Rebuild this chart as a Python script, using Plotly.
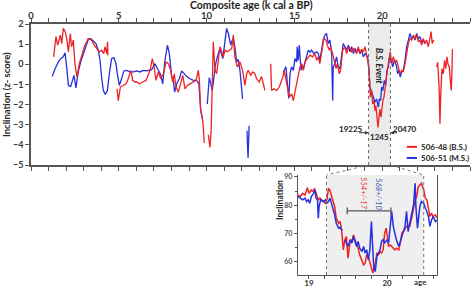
import plotly.graph_objects as go

# ---------------- data ----------------
red_age = [1.29,1.42,1.52,1.67,1.75,1.84,1.95,2.05,2.13,2.24,2.31,2.41,2.5,2.62,2.75,2.94,3.07,3.26,3.45,3.6,3.76,3.89,4.02,4.14,4.21,4.31,4.36,4.38,None,
           4.9,4.97,5.09,5.22,5.41,5.5,5.6,5.69,5.79,5.92,6.03,6.17,6.36,6.55,6.78,6.91,7.01,7.12,7.25,7.39,7.54,7.69,7.82,7.96,8.07,8.16,8.26,8.39,8.52,8.64,8.77,8.9,9.06,9.25,9.4,9.53,9.59,9.66,9.78,9.87,None,
           10.1,10.19,10.26,10.33,10.38,10.48,10.57,10.67,10.76,10.86,10.95,11.05,11.18,11.3,11.43,11.52,11.61,11.75,11.9,12.05,12.18,12.28,12.37,12.51,12.62,12.74,12.85,13.0,13.13,13.23,13.32,None,
           13.65,13.7,13.84,13.99,14.14,14.27,14.37,14.42,14.52,14.6,14.71,14.84,14.94,15.03,15.13,15.22,15.32,15.41,15.51,15.6,15.73,15.89,16.04,16.17,16.27,16.36,16.45,16.55,16.68,16.8,16.87,16.99,17.06,17.18,17.25,17.37,17.44,17.56,17.63,17.75,17.88,17.97,18.12,18.26,18.39,18.54,18.64,18.73,18.83,18.92,19.02,19.11,19.21,19.27,19.32,19.4,19.46,19.53,19.59,19.64,19.7,19.76,19.82,19.87,19.93,19.99,20.04,20.1,20.16,20.21,20.27,20.35,20.4,20.46,20.54,20.63,20.73,20.82,20.92,21.01,21.11,21.2,21.3,21.39,21.49,21.58,21.68,21.77,21.87,21.96,22.06,22.15,22.25,22.34,22.43,22.53,22.62,22.72,22.78,22.85,22.93,None,
           23.1,23.16,23.24,23.29,23.33,23.4,23.48,23.55,23.62,23.69,23.75,23.82,23.88,23.93,23.97,24.0]
red_z = [0.37,1.37,0.95,1.45,1.03,1.78,1.62,1.2,0.62,1.53,0.87,1.2,0.03,-0.63,0.03,0.53,0.95,1.28,1.2,0.95,0.78,0.62,0.7,0.53,0.87,0.53,1.12,0.45,None,
         -1.22,-1.8,-1.13,-1.05,-0.97,-0.8,-0.47,-0.3,-0.8,-0.88,-0.88,-0.97,-0.88,-0.8,-0.3,0.28,-0.13,-0.8,-0.38,-0.72,-0.47,0.12,0.03,-0.3,-0.88,-0.47,-1.13,-1.38,-0.97,-0.55,-1.22,-1.05,-0.97,-0.88,-0.8,-0.3,-0.8,-2.3,-2.8,-3.9,None,
         -3.5,-4.13,-3.3,0.03,1.12,-0.3,-0.47,0.2,0.87,0.62,0.37,0.7,0.62,0.7,0.78,1.45,0.37,-0.13,0.12,-0.3,-1.05,-0.47,-0.3,-0.55,-0.38,-0.45,-0.72,-0.88,-0.6,-0.97,-1.3,None,
         0.03,-1.3,-1.22,-1.3,-1.13,-0.8,-0.55,-0.3,-0.72,-1.13,-1.63,-1.47,-1.8,-1.38,-0.97,-0.47,-0.13,0.03,-0.3,0.12,0.28,0.45,0.37,0.53,0.2,0.37,0.03,0.62,1.28,1.2,0.95,0.7,0.87,0.53,0.28,-0.22,0.03,-0.47,-0.3,0.7,0.87,0.53,0.87,0.62,0.78,0.53,0.87,0.53,0.75,0.62,0.87,0.53,0.03,-0.63,-1.63,-1.3,-1.97,-1.8,-2.3,-2.05,-2.8,-3.13,-2.63,-2.22,-2.63,-2.05,-1.8,-1.63,-1.13,-0.8,-0.47,0.03,0.28,0.62,0.03,0.37,0.12,0.2,-0.13,-0.47,-0.3,-0.38,0.03,0.53,1.03,1.28,1.2,1.45,1.28,1.45,1.12,1.2,0.95,1.28,1.03,1.2,0.87,1.28,1.62,1.03,1.2,None,
         -0.13,0.1,-1.13,-2.95,-1.63,-0.22,-0.47,0.2,-0.22,0.37,0.0,-0.13,-0.8,-1.3,-0.47,0.75]

blue_age = [1.21,1.37,1.56,1.69,1.84,1.94,2.03,2.13,2.26,2.37,2.45,2.56,2.69,2.83,2.98,3.13,3.26,3.4,3.55,3.7,3.83,3.93,4.02,4.12,4.23,4.35,4.46,4.59,4.72,4.84,4.93,5.03,5.16,5.29,5.45,5.64,5.83,6.02,6.2,6.39,6.58,6.77,6.87,7.06,7.25,7.38,7.5,7.63,7.77,7.88,8.01,8.11,8.18,8.3,8.45,8.58,8.71,8.86,9.05,9.24,9.43,9.56,9.66,9.77,None,
            10.04,10.15,10.22,10.32,10.4,10.48,10.61,10.76,10.92,11.05,11.14,11.24,11.37,11.42,11.52,11.61,11.71,11.8,11.9,12.05,None,
            12.3,12.36,12.42,None,
            14.37,14.52,14.6,14.68,14.75,14.84,14.94,15.03,15.13,15.16,15.22,15.28,15.32,15.38,15.44,15.51,15.79,15.89,15.98,16.11,16.27,16.36,16.45,16.55,16.64,16.74,16.83,16.93,17.02,17.12,17.18,17.21,17.31,17.4,17.5,17.59,17.69,17.78,17.88,17.97,18.07,18.17,18.26,18.36,18.45,18.55,18.64,18.73,18.83,18.92,19.02,19.17,19.25,19.3,19.4,19.49,19.59,19.68,19.78,19.84,19.91,19.97,20.04,20.12,20.2,20.27,20.35,20.42,20.5,20.6,20.69,20.8,20.88,20.95,21.03,21.11,21.2,21.3,21.39,21.49,21.58,21.68,21.77,21.87,21.96,22.06,22.15,22.25,22.34,22.43,22.5]
blue_z = [-0.6,-0.22,0.12,0.28,0.37,0.57,-0.13,-1.05,-1.1,-0.8,-0.55,-1.17,-0.38,0.12,0.53,0.95,1.23,1.28,1.17,1.03,0.7,0.2,-0.63,-1.3,-1.5,-1.3,-0.47,0.28,0.33,0.03,-0.55,-1.05,-0.72,-0.33,-0.3,-0.38,-0.38,-0.33,-0.38,-0.3,-0.33,-0.27,-0.27,0.03,-0.3,-0.5,-0.97,0.2,0.95,0.53,-0.63,-0.8,-1.38,-0.97,-0.72,-0.33,-0.45,-0.6,-0.72,-0.8,-0.8,-0.97,-2.22,-2.72,None,
          -1.97,-0.67,-0.9,-1.3,-0.8,-0.13,0.37,0.78,0.28,1.12,1.78,1.53,0.95,1.12,1.28,0.87,0.12,0.25,-0.3,-1.72,None,
          -3.3,-4.65,-3.05,None,
          -0.38,-0.13,-0.97,-1.7,-0.47,-0.13,-0.3,0.28,0.12,0.87,0.2,0.95,0.37,-0.3,-0.05,-0.22,0.7,0.6,0.7,0.53,0.62,0.53,0.2,0.7,1.2,1.45,1.53,1.03,1.2,0.53,-1.8,-0.13,0.03,0.37,-0.13,-0.22,0.53,1.03,0.87,0.7,0.95,0.62,0.87,0.53,0.78,0.62,0.78,0.53,0.7,0.37,0.53,0.37,-0.3,-1.13,-1.38,-1.63,-1.88,-1.72,-2.13,-1.72,-1.8,-1.13,-1.3,-0.8,-1.05,-0.3,-0.13,0.37,0.2,-0.13,0.2,-0.05,-0.47,-0.3,-0.63,-0.38,-0.3,0.2,0.87,1.2,1.53,1.28,1.4,1.2,1.53,1.28,1.37,1.1,1.2,1.03,1.15]

# inset (inclination, degrees) around the B.S. event
inset_red_age = [18.86,18.89,18.92,18.95,18.98,19.0,19.03,19.06,19.07,19.1,19.12,19.14,19.18,19.21,19.23,19.25,19.27,19.29,19.31,19.33,19.35,19.38,19.4,19.42,19.44,19.46,19.48,19.5,19.53,19.55,19.57,19.59,19.61,19.63,19.65,19.68,19.7,19.72,19.74,19.76,19.78,19.8,19.82,19.85,19.87,19.89,19.91,19.93,19.95,19.97,19.99,20.0,20.02,20.04,20.06,20.08,20.1,20.12,20.15,20.17,20.19,20.21,20.23,20.25,20.27,20.29,20.32,20.34,20.36,20.38,20.4,20.42,20.44,20.47,20.49,20.51,20.53,20.55,20.57,20.59,20.62,20.64]
inset_red_inc = [83.6,83.1,84.2,83.6,86.2,84.2,85.4,84.8,86.0,83.1,81.9,82.5,81.3,80.7,81.9,86.0,85.2,83.6,81.3,79.5,75.4,73.6,74.2,70.7,64.2,67.8,68.9,61.3,67.8,67.2,69.5,67.8,66.6,64.8,62.5,60.7,58.9,59.5,62.5,61.9,59.5,57.8,56.0,59.5,63.1,62.5,63.6,63.1,64.2,70.1,71.9,68.9,65.4,66.0,65.4,64.8,64.2,64.8,64.2,66.6,70.1,70.7,71.9,72.5,72.2,72.5,76.0,79.5,81.9,83.1,86.6,87.2,87.8,85.4,82.5,81.9,79.5,76.0,77.2,76.0,76.6,75.4]
inset_blue_age = [18.86,18.89,18.92,18.95,18.97,18.99,19.01,19.03,19.06,19.08,19.09,19.11,19.12,19.13,19.15,19.18,19.21,19.23,19.25,19.27,19.29,19.31,19.33,19.35,19.38,19.4,19.42,19.43,None,19.46,19.48,19.5,19.53,19.55,19.57,19.59,19.61,19.63,19.65,19.68,19.7,19.72,19.74,19.76,19.78,19.8,19.82,19.83,19.85,19.87,19.89,19.91,19.93,19.95,19.97,20.0,20.02,20.03,20.05,20.06,20.08,20.1,20.12,20.15,20.17,20.19,20.21,20.23,20.25,20.27,20.29,20.32,20.34,20.36,20.37,20.39,20.41,20.42,20.44,20.47,20.49,20.51,20.53,20.55,20.57,20.59,20.62,20.64]
inset_blue_inc = [83.1,82.5,81.9,82.5,81.3,81.9,80.7,83.1,84.2,85.4,82.5,81.9,75.4,79.5,81.9,81.3,81.9,80.7,81.3,82.5,80.7,78.4,76.6,73.6,71.9,72.2,71.3,71.5,None,67.8,66.6,65.4,67.8,66.6,68.9,66.6,65.4,67.2,64.8,63.6,65.4,63.1,64.2,60.7,64.2,74.2,64.2,57.8,56.6,61.9,63.1,64.2,67.2,67.8,66.6,67.8,66.6,68.9,74.8,77.8,72.5,70.1,67.8,65.4,67.2,68.9,71.3,72.5,77.8,70.7,73.6,77.2,80.1,87.8,79.5,71.9,76.0,79.5,81.3,80.7,78.9,77.8,76.0,72.5,74.8,76.0,74.2,74.8]

event_start = 19.225
event_end = 20.47
event_duration = 1245
labels = ["506-48 (B.S.)", "506-51 (M.S.)"]
ages_ticks = [0, 5, 10, 15, 20, 25]

RED = "#ee2222"
BLUE = "#2630dd"
AX = "#555555"
FONT = "Lato"

W, H = 474, 289
def px(x):  # pixel -> paper
    return x / W
def py(y):
    return 1 - y / H

main_xdom = [px(31), px(470)]
main_ydom = [py(165), py(24)]
main_xr = [0, 25]
main_yr = [-5, 2]
ins_xdom = [px(298), px(437)]
ins_ydom = [py(275), py(175)]
ins_xr = [18.86, 20.64]
ins_yr = [55.3, 90.7]

fig = go.Figure()
fig.add_trace(go.Scatter(x=blue_age, y=blue_z, mode="lines", line=dict(color=BLUE, width=1.3),
                         xaxis="x", yaxis="y", showlegend=False, connectgaps=False))
fig.add_trace(go.Scatter(x=red_age, y=red_z, mode="lines", line=dict(color=RED, width=1.3),
                         xaxis="x", yaxis="y", showlegend=False, connectgaps=False))
fig.add_trace(go.Scatter(x=inset_red_age, y=inset_red_inc, mode="lines", line=dict(color=RED, width=1.5),
                         xaxis="x2", yaxis="y2", showlegend=False))
fig.add_trace(go.Scatter(x=inset_blue_age, y=inset_blue_inc, mode="lines", line=dict(color=BLUE, width=1.5),
                         xaxis="x2", yaxis="y2", showlegend=False, connectgaps=False))

tf = dict(family=FONT, size=9.5, color="#333", weight="bold")
fig.update_layout(
    width=W, height=H, margin=dict(l=0, r=0, t=0, b=0),
    paper_bgcolor="white", plot_bgcolor="rgba(0,0,0,0)", template="none",
    showlegend=False,
    xaxis=dict(domain=main_xdom, range=main_xr, side="top", anchor="y",
               showline=True, linecolor=AX, linewidth=1.5, mirror="ticks",
               ticks="outside", ticklen=4, tickwidth=1.3, tickcolor=AX,
               tickvals=ages_ticks, tickfont=tf, ticklabelstandoff=-5,
               minor=dict(dtick=1, tick0=0, ticks="outside", ticklen=4, tickwidth=1.3, tickcolor=AX),
               showgrid=False, zeroline=False),
    yaxis=dict(domain=main_ydom, range=main_yr, anchor="x",
               showline=True, linecolor=AX, linewidth=1.5,
               ticks="outside", ticklen=4, tickwidth=1.3, tickcolor=AX,
               dtick=1, tick0=0, tickfont=dict(family=FONT, size=9, color="#333", weight="bold"),
               showgrid=False, zeroline=False),
    xaxis2=dict(domain=ins_xdom, range=ins_xr, anchor="y2",
                showline=True, linecolor=AX, linewidth=1.3,
                ticks="outside", ticklen=3, tickwidth=1.2, tickcolor=AX,
                tickvals=[19, 20], tickfont=dict(family=FONT, size=8, color="#333", weight="bold"),
                ticklabelstandoff=-3,
                minor=dict(dtick=0.2, tick0=19, ticks="outside", ticklen=3, tickwidth=1.2, tickcolor=AX),
                showgrid=False, zeroline=False),
    yaxis2=dict(domain=ins_ydom, range=ins_yr, anchor="x2",
                showline=True, linecolor=AX, linewidth=1.3, mirror=True,
                ticks="outside", ticklen=3, tickwidth=1.2, tickcolor=AX,
                tickvals=[60, 70, 80, 90], tickfont=dict(family=FONT, size=7, color="#555", weight="bold"),
                minor=dict(dtick=5, tick0=55, ticks="outside", ticklen=2, tickwidth=1, tickcolor=AX),
                showgrid=False, zeroline=False),
)

shapes = []
# B.S. event band, main panel
shapes.append(dict(type="rect", xref="x", yref="y", x0=event_start, x1=event_end, y0=main_yr[0], y1=main_yr[1],
                   fillcolor="#ebebeb", line=dict(width=0), layer="below"))
for xv in (event_start, event_end):
    shapes.append(dict(type="line", xref="x", yref="y", x0=xv, x1=xv, y0=main_yr[0], y1=main_yr[1],
                       line=dict(color="#666", width=1, dash="dot")))
# band in inset
shapes.append(dict(type="rect", xref="x2", yref="y2 domain", x0=event_start, x1=event_end, y0=0, y1=1,
                   fillcolor="#efefef", line=dict(width=0), layer="below"))
for xv in (event_start, event_end):
    shapes.append(dict(type="line", xref="x2", yref="y2 domain", x0=xv, x1=xv, y0=0, y1=1,
                       line=dict(color="#777", width=1, dash="dot")))
# connectors between main band and inset band
def main_to_paper(x):
    return main_xdom[0] + (x - main_xr[0]) / (main_xr[1] - main_xr[0]) * (main_xdom[1] - main_xdom[0])
def ins_to_paper(x):
    return ins_xdom[0] + (x - ins_xr[0]) / (ins_xr[1] - ins_xr[0]) * (ins_xdom[1] - ins_xdom[0])
for xv in (event_start, event_end):
    shapes.append(dict(type="line", xref="paper", yref="paper",
                       x0=main_to_paper(xv), y0=main_ydom[0], x1=ins_to_paper(xv), y1=ins_ydom[1],
                       line=dict(color="#777", width=1, dash="dot")))
# error bracket in inset
bx0, bx1, by = 19.49, 20.05, 78.0
shapes.append(dict(type="line", xref="x2", yref="y2", x0=bx0, x1=bx1, y0=by, y1=by, line=dict(color="#555", width=1.3)))
for xv in (bx0, bx1):
    shapes.append(dict(type="line", xref="x2", yref="y2", x0=xv, x1=xv, y0=by - 1.2, y1=by + 1.2, line=dict(color="#555", width=1.3)))
# legend samples
for yv, col in ((-4.1, RED), (-4.65, BLUE)):
    shapes.append(dict(type="line", xref="x", yref="y", x0=21.4, x1=21.98, y0=yv, y1=yv, line=dict(color=col, width=2)))
fig.update_layout(shapes=shapes)

ann = []
ann.append(dict(text="Composite age (k cal a BP)", xref="paper", yref="paper", x=px(252), y=py(4.5),
                showarrow=False, font=dict(family=FONT, size=10.5, color="#222", weight="bold"), xanchor="center", yanchor="middle"))
ann.append(dict(text="Inclination (z- score)", xref="paper", yref="paper", x=px(7), y=py(95), textangle=-90,
                showarrow=False, font=dict(family=FONT, size=9.5, color="#222", weight="bold"), xanchor="center", yanchor="middle"))
ann.append(dict(text="<i>B.S. Event</i>", xref="x", yref="paper", x=(event_start + event_end) / 2, y=py(46), textangle=90,
                showarrow=False, font=dict(family=FONT, size=8.5, color="#222", weight="bold")))
ann.append(dict(text=str(int(round(event_start * 1000))), xref="x", yref="y", x=18.22, y=-3.2, showarrow=False,
                font=dict(family=FONT, size=8, color="#222", weight="bold")))
ann.append(dict(text=str(int(round(event_end * 1000))), xref="x", yref="y", x=21.3, y=-3.2, showarrow=False,
                font=dict(family=FONT, size=8, color="#222", weight="bold")))
ann.append(dict(text=str(event_duration), xref="x", yref="y", x=19.82, y=-3.6, showarrow=False,
                font=dict(family=FONT, size=8, color="#222", weight="bold")))
ann.append(dict(text="", xref="x", yref="y", x=event_start, y=-3.4, ax=-11, ay=0, showarrow=True,
                arrowhead=2, arrowsize=0.7, arrowwidth=1, arrowcolor="#333"))
ann.append(dict(text="", xref="x", yref="y", x=event_end, y=-3.4, ax=8, ay=0, showarrow=True,
                arrowhead=2, arrowsize=0.7, arrowwidth=1, arrowcolor="#333"))
for yv, lab in ((-4.1, labels[0]), (-4.65, labels[1])):
    ann.append(dict(text=lab, xref="x", yref="y", x=22.08, y=yv, xanchor="left", yanchor="middle", showarrow=False,
                    font=dict(family=FONT, size=8, color="#222", weight="bold")))
ann.append(dict(text="<i>554+/-17</i>", xref="x2", yref="y2", x=19.69, y=84, textangle=90, showarrow=False,
                font=dict(family=FONT, size=7.5, color="#e03030")))
ann.append(dict(text="<i>568+/-10</i>", xref="x2", yref="y2", x=19.88, y=84, textangle=90, showarrow=False,
                font=dict(family=FONT, size=7.5, color="#3050b0")))
ann.append(dict(text="Inclination", xref="paper", yref="paper", x=px(280), y=py(222), textangle=-90, showarrow=False,
                font=dict(family=FONT, size=8.5, color="#222", weight="bold")))
ann.append(dict(text="age", xref="paper", yref="paper", x=px(429), y=py(282), showarrow=False,
                font=dict(family=FONT, size=8, color="#333", weight="bold"), yanchor="middle"))
fig.update_layout(annotations=ann)

fig.write_html("out.html")
